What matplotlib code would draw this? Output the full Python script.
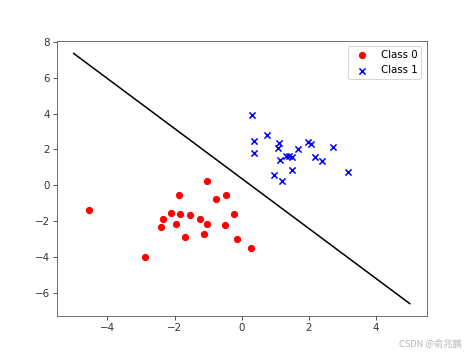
import matplotlib
matplotlib.use("Agg")
import matplotlib.pyplot as plt

class0_x = [-4.55, -2.88, -2.40, -2.35, -2.10, -1.95, -1.86, -1.83, -1.68, -1.55,
            -1.24, -1.13, -1.04, -1.02, -0.77, -0.51, -0.47, -0.24, -0.13, 0.27]
class0_y = [-1.38, -4.00, -2.32, -1.88, -1.58, -2.19, -0.54, -1.62, -2.88, -1.65,
            -1.88, -2.75, -2.16, 0.24, -0.80, -2.21, -0.54, -1.62, -2.99, -3.49]

class1_x = [0.30, 0.38, 0.38, 0.75, 1.11, 1.09, 1.13, 0.95, 1.20, 1.32,
            1.40, 1.49, 1.49, 1.68, 1.98, 2.06, 2.17, 2.39, 2.73, 3.15]
class1_y = [3.94, 2.45, 1.78, 2.79, 2.38, 2.06, 1.41, 0.58, 0.24, 1.64,
            1.64, 1.60, 0.82, 2.04, 2.42, 2.30, 1.60, 1.34, 2.12, 0.74]

boundary_x = [-5, 5]
boundary_y = [7.36, -6.62]

labels = ["Class 0", "Class 1"]
watermark = "CSDN @俞兆鹏"

fig = plt.figure(figsize=(6.405, 4.811), dpi=74)
ax = fig.add_subplot(111)
fig.subplots_adjust(left=0.12, right=0.9, top=0.885, bottom=0.112)
ax.scatter(class0_x, class0_y, c="red", marker="o", label=labels[0])
ax.scatter(class1_x, class1_y, c="blue", marker="x", label=labels[1])
ax.plot(boundary_x, boundary_y, color="black")
ax.legend(loc="upper right")
for s in ax.spines.values():
    s.set_color("#555555")
ax.tick_params(colors="#333333")

fig.text(0.975, 0.034, watermark, ha="right", va="center", fontsize=9,
         color="#b4b4b4", family=["Noto Sans CJK SC", "DejaVu Sans"])

fig.savefig("out.png", dpi=74)
